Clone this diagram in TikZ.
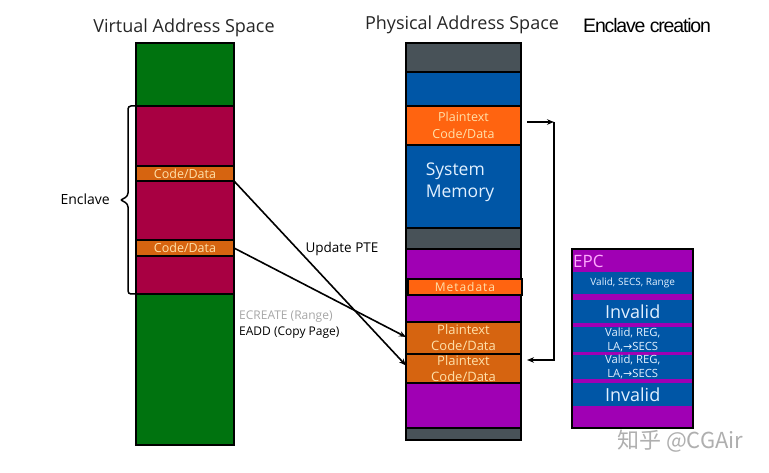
\documentclass[tikz,border=0pt]{standalone}
\usepackage{fontspec}
\setmainfont{Open Sans}
\newfontfamily\titlefont[LetterSpace=-6]{Liberation Sans}
\newfontfamily\cjkfont{Noto Sans CJK SC}
\newfontfamily\symfont{DejaVu Sans}
\usetikzlibrary{arrows.meta,calc}
\definecolor{vgreen}{RGB}{0,115,15}
\definecolor{vred}{RGB}{168,0,66}
\definecolor{cdorange}{RGB}{214,100,16}
\definecolor{brorange}{RGB}{255,100,16}
\definecolor{mblue}{RGB}{0,86,166}
\definecolor{mgray}{RGB}{72,82,88}
\definecolor{mmag}{RGB}{160,0,180}
\definecolor{cdtext}{RGB}{255,225,170}
\definecolor{bltext}{RGB}{225,240,255}
\definecolor{epctext}{RGB}{255,170,255}
\definecolor{wmark}{RGB}{175,175,175}
\tikzset{
  blk/.style={draw=black, line width=1.3pt, anchor=north west, inner sep=0pt, outer sep=0pt},
  lbl/.style={font=\fontsize{12.5}{14}\selectfont, text=cdtext, align=center, inner sep=0pt},
  conn/.style={line width=1.6pt, -{Stealth[length=7pt,width=5.5pt]}},
  ttl/.style={font=\fontsize{18}{20}\selectfont, text=black!85, inner sep=0pt}
}
\newcommand{\blkat}[6]{% name, x, y, w, h, color
  \node[blk, fill=#6, minimum width=#4pt, minimum height=#5pt] (#1) at (#2,#3) {};}
\begin{document}
\begin{tikzpicture}[x=1pt,y=-1pt]
\useasboundingbox (0,0) rectangle (769,473);
% titles
\node[ttl] (tv) at (184,28) {Virtual Address Space};
\node[ttl] (tp) at (462,25) {Physical Address Space};
\node[font=\titlefont\fontsize{19.5}{21}\selectfont, inner sep=0pt, anchor=west] (te) at (583,26) {Enclave creation};
% virtual column
\blkat{vg1}{136}{43}{98}{63}{vgreen}
\blkat{vr}{136}{106}{98}{188}{vred}
\blkat{vg2}{136}{294}{98}{151}{vgreen}
\blkat{cd1}{136}{166}{98}{15}{cdorange}
\blkat{cd2}{136}{240}{98}{16}{cdorange}
\node[lbl] at (cd1.center) {Code/Data};
\node[lbl] at (cd2.center) {Code/Data};
% brace
\draw[line width=1.5pt, rounded corners=3pt] (135,106) -- (128,106) -- (128,196) -- (121,200);
\draw[line width=1.5pt, rounded corners=3pt] (121,200) -- (128,204) -- (128,294) -- (135,294);
\node[font=\fontsize{14}{16}\selectfont, anchor=east, inner sep=0pt] (encl) at (110,199) {Enclave};
% physical column
\blkat{pg1}{406}{43}{115}{29}{mgray}
\blkat{pb1}{406}{72}{115}{34}{mblue}
\blkat{ptop}{406}{106}{115}{39}{brorange}
\blkat{pb2}{406}{145}{115}{83}{mblue}
\blkat{pg2}{406}{228}{115}{21}{mgray}
\blkat{pm1}{406}{249}{115}{73}{mmag}
\blkat{meta}{408}{279}{114}{16}{brorange}
\blkat{pt1}{406}{322}{115}{32}{cdorange}
\blkat{pt2}{406}{354}{115}{29}{cdorange}
\blkat{pm2}{406}{383}{115}{45}{mmag}
\blkat{pg3}{406}{428}{115}{12}{mgray}
\node[lbl, font=\fontsize{12.5}{17}\selectfont] at (ptop.center) {Plaintext\\Code/Data};
\node[font=\fontsize{17.5}{22}\selectfont, text=bltext, align=left, inner sep=0pt] at (460,182) {System\\Memory};
\node[lbl, font=\addfontfeatures{LetterSpace=8}\fontsize{12}{14}\selectfont] at (meta.center) {Metadata};
\node[lbl, font=\fontsize{13}{16}\selectfont] at (pt1.center) {Plaintext\\Code/Data};
\node[lbl, font=\fontsize{13}{16}\selectfont] at (pt2.center) {Plaintext\\Code/Data};
% EPC column
\blkat{e0}{572}{249}{121}{179}{mmag}
\node[font=\fontsize{17}{18}\selectfont, text=epctext, anchor=west, inner sep=0pt] (epc) at (573,261) {EPC};
\begin{scope}[every node/.style={fill=mblue, anchor=north west, inner sep=0pt, minimum width=119pt, text=bltext, align=center}]
\node[minimum height=22pt, font=\fontsize{10}{11}\selectfont] (e1) at (573,272) {Valid, SECS, Range};
\node[minimum height=23pt, font=\fontsize{18}{19}\selectfont] (e2) at (573,300) {Invalid};
\node[minimum height=25pt, font=\fontsize{11.3}{14}\selectfont] (e3) at (573,327) {Valid, REG,\\LA,{\symfont\fontsize{11}{14}\selectfont →}SECS};
\node[minimum height=24pt, font=\fontsize{11.3}{14}\selectfont] (e4) at (573,355) {Valid, REG,\\LA,{\symfont\fontsize{11}{14}\selectfont →}SECS};
\node[minimum height=23pt, font=\fontsize{18}{19}\selectfont] (e5) at (573,383) {Invalid};
\end{scope}
\draw[line width=1.3pt] (e0.north west) rectangle (e0.south east);
% connectors
\draw[conn] (cd1.south east) -- ($(pt2.west)+(0,-3)$);
\draw[conn] (cd2.east) -- ($(pt1.west)+(0,-1)$);
\node[font=\fontsize{13.5}{15}\selectfont, inner sep=0pt] (upd) at (342,249) {Update PTE};
\node[font=\fontsize{12}{13}\selectfont, text=black!35, anchor=west, inner sep=0pt] (ecr) at (239,317) {ECREATE (Range)};
\node[font=\fontsize{12}{13}\selectfont, anchor=west, inner sep=0pt] (eadd) at (239,333) {EADD (Copy Page)};
\coordinate (s1) at (527,122);
\coordinate (c1) at (554,122);
\coordinate (c2) at (554,360);
\coordinate (s2) at (527,360);
\draw[conn] (s1) -- (c1);
\draw[conn] (c1) -- (c2) -- (s2);
% watermark
\node[font=\cjkfont\fontsize{22}{24}\selectfont, text=wmark, anchor=west, inner sep=0pt] (wm) at (617,441) {知乎 @CGAir};
\end{tikzpicture}
\end{document}
